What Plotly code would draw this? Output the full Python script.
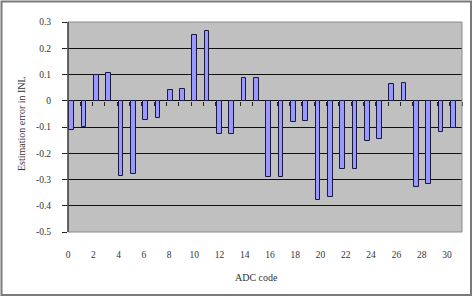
import plotly.graph_objects as go

adc_codes = list(range(32))
inl_error = [-0.11, -0.10, 0.10, 0.105, -0.285, -0.28, -0.075, -0.065,
             0.04, 0.045, 0.25, 0.265, -0.125, -0.125, 0.087, 0.087,
             -0.29, -0.29, -0.08, -0.077, -0.378, -0.368, -0.26, -0.26,
             -0.155, -0.147, 0.064, 0.067, -0.328, -0.318, -0.118, -0.104]
x_tick_labels = list(range(0, 31, 2))
y_tick_vals = [-0.5, -0.4, -0.3, -0.2, -0.1, 0, 0.1, 0.2, 0.3]
y_tick_text = ["-0.5", "-0.4", "-0.3", "-0.2", "-0.1", "0", "0.1", "0.2", "0.3"]

W, H = 474, 297
ML, MR, MT, MB = 68, 12, 22, 65
PW, PH = W - ML - MR, H - MT - MB
FONT = "Liberation Serif"
TXT = "#333"
YMIN, YMAX = -0.5, 0.3

fig = go.Figure()
fig.add_trace(go.Bar(
    x=adc_codes, y=inl_error, offset=0.11, width=0.38,
    marker=dict(color="#9999ff", line=dict(color="#1a1a40", width=1)),
    showlegend=False, hoverinfo="x+y", xaxis="x", yaxis="y"))
# invisible helper trace so the label axis is drawn
fig.add_trace(go.Scatter(x=x_tick_labels, y=[None] * len(x_tick_labels),
                         xaxis="x2", yaxis="y", showlegend=False,
                         hoverinfo="skip", mode="markers"))

zero_pos = (0 - YMIN) / (YMAX - YMIN)

fig.update_layout(
    width=W, height=H,
    margin=dict(l=ML, r=MR, t=MT, b=MB, pad=0),
    paper_bgcolor="white", plot_bgcolor="#c0c0c0",
    font=dict(family=FONT, size=9, color=TXT),
    bargap=0,
    xaxis=dict(range=[0, 32], anchor="free", position=zero_pos,
               showticklabels=False, ticks="outside", ticklen=4,
               tickcolor="#222", tickwidth=1, tick0=0, dtick=1,
               showgrid=False, zeroline=False, showline=False),
    xaxis2=dict(range=[0, PW / 12.63], overlaying="x", anchor="y",
                side="bottom", tickvals=x_tick_labels,
                ticktext=[str(v) for v in x_tick_labels],
                ticks="", showgrid=False, zeroline=False, showline=False,
                ticklabelstandoff=15, tickfont=dict(size=9.5, family=FONT, color=TXT)),
    yaxis=dict(range=[YMIN, YMAX], tickvals=y_tick_vals, ticktext=y_tick_text,
               ticks="outside", ticklen=5, tickcolor="#222",
               showgrid=True, gridcolor="#111", gridwidth=1,
               zeroline=False, showline=False, ticklabelstandoff=9,
               tickfont=dict(size=9.5, family=FONT, color=TXT)),
)

# plot-area border (gray), left axis line (black), outer frame
fig.add_shape(type="rect", xref="paper", yref="paper", x0=0, x1=1, y0=0, y1=1,
              line=dict(color="#8a8a8a", width=1), layer="above")
fig.add_shape(type="line", xref="paper", yref="paper", x0=0, x1=0, y0=0, y1=1,
              line=dict(color="#111", width=1), layer="above")
fig.add_shape(type="rect", xref="paper", yref="paper",
              x0=(1.5 - ML) / PW, x1=(471 - ML) / PW,
              y0=(MT + PH - 295) / PH, y1=(MT + PH - 1.5) / PH,
              line=dict(color="#7a7a7a", width=2), layer="below")

fig.add_annotation(text="ADC code", xref="paper", yref="paper",
                   x=(256 - ML) / PW, y=(MT + PH - 277) / PH,
                   xanchor="center", yanchor="middle",
                   showarrow=False, font=dict(size=10, family=FONT, color=TXT))
fig.add_annotation(text="Estimation error in INL", xref="paper", yref="paper",
                   x=(21 - ML) / PW, y=(MT + PH - 124) / PH, textangle=-90,
                   xanchor="center", yanchor="middle",
                   showarrow=False, font=dict(size=10, family=FONT, color=TXT))

fig.write_html("out.html")
